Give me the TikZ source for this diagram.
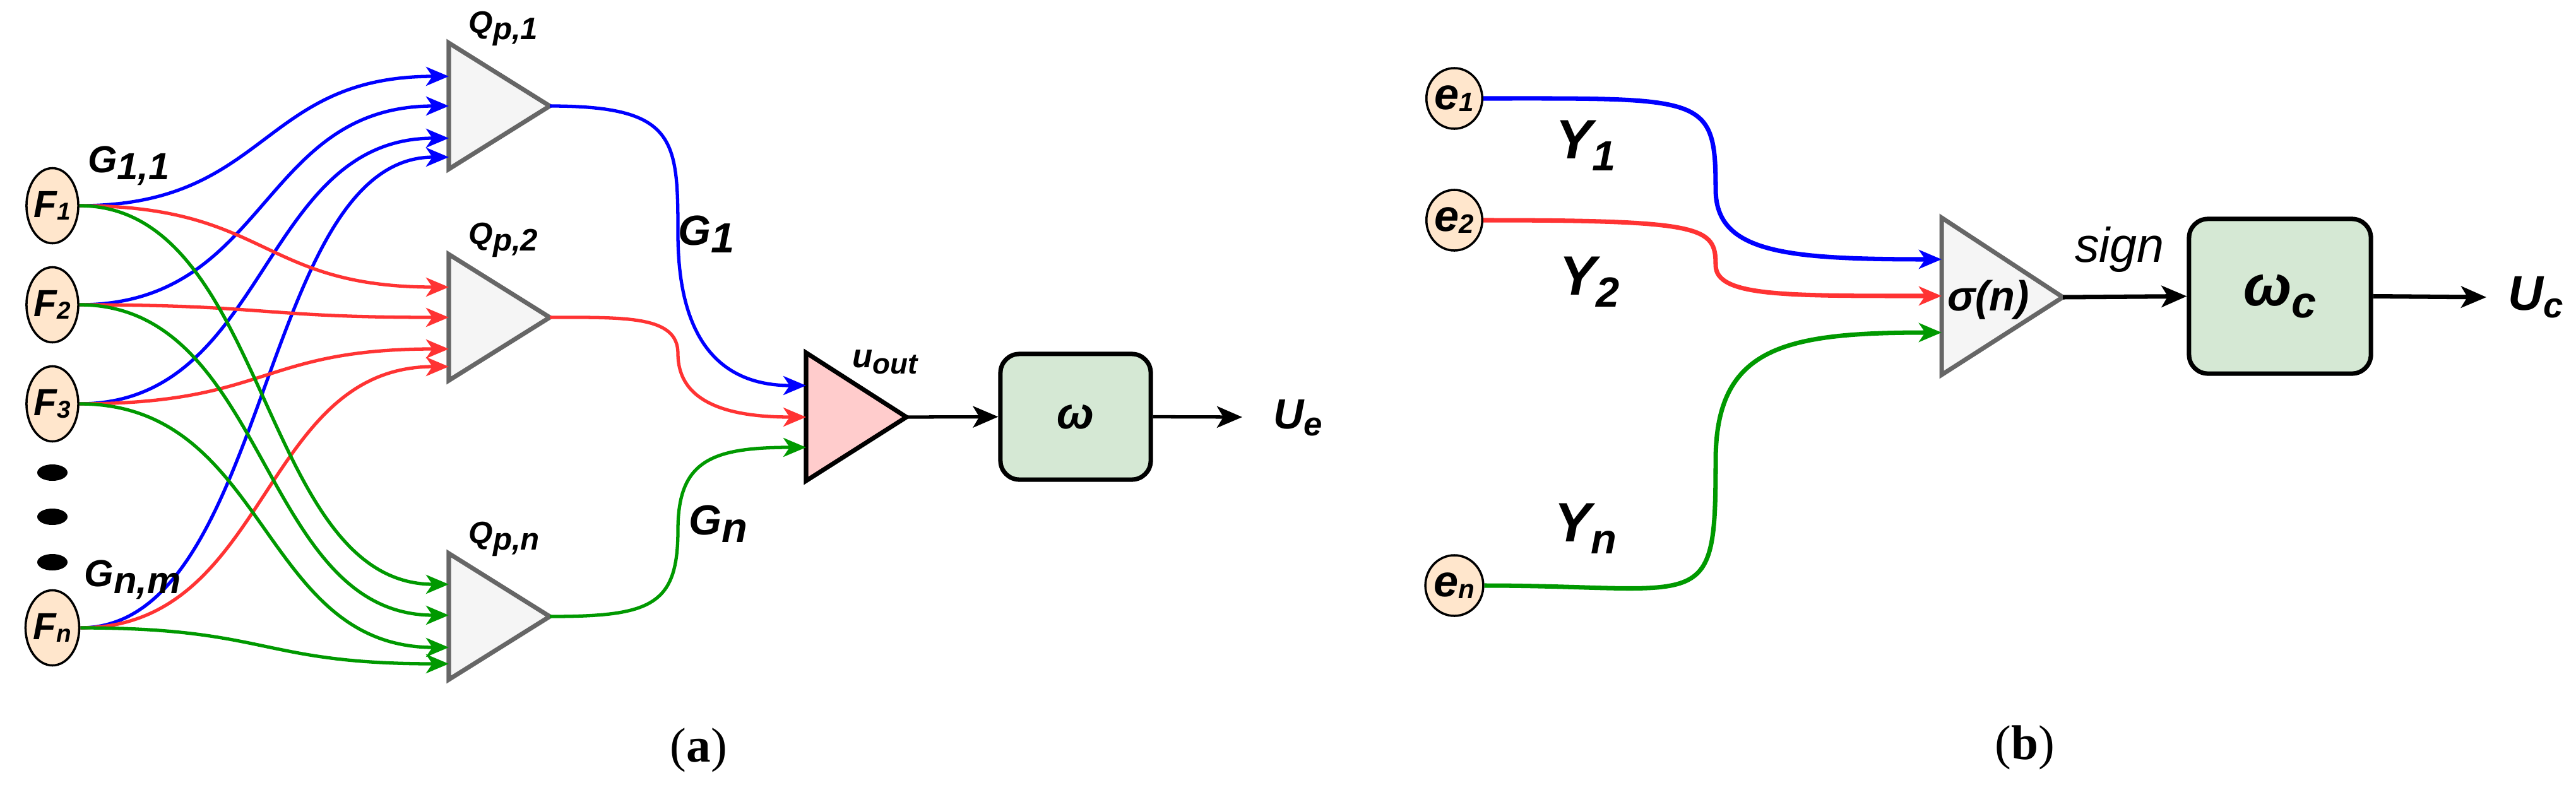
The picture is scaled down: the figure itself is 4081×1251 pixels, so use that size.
\documentclass[tikz,border=0pt]{standalone}
\usepackage{fontspec}
\setmainfont{Liberation Sans}
\newfontfamily\capfont{Liberation Serif}
\usetikzlibrary{arrows.meta,shapes.geometric}
\definecolor{cb}{HTML}{0000FF}
\definecolor{cr}{HTML}{FF3333}
\definecolor{cg}{HTML}{009900}
\definecolor{tgray}{HTML}{F5F5F5}
\definecolor{tedge}{HTML}{666666}
\definecolor{pinkf}{HTML}{FFCCCC}
\definecolor{boxg}{HTML}{D5E8D4}
\definecolor{nodef}{HTML}{FFE6CC}
\begin{document}
\begin{tikzpicture}[x=0.01cm,y=-0.01cm,
  lbl/.style={font=\fontsize{#1}{#1}\selectfont\bfseries\itshape, inner sep=0},
  src/.style={ellipse,draw=black,line width=1pt,fill=nodef,inner sep=0},
  wire/.style={line width=1.5pt,-{Stealth[length=0.36cm,width=0.3cm,inset=0.1cm]}},
  tri/.style={draw=tedge,fill=tgray,line width=2pt,line join=miter},
  blk/.style={draw=black,fill=boxg,line width=2pt,rounded corners=0.3cm},
  outarrow/.style={line width=1.5pt,-{Stealth[length=0.4cm,width=0.34cm,inset=0.1cm]}}]
\useasboundingbox (0,0) rectangle (4081,1251);
% ---------- panel (a) ----------
\foreach \n/\y/\t in {f1/326/1,f2/483/2,f3/640/3,fn/995/n}
  \node[src,minimum width=0.81cm,minimum height=1.19cm] (\n) at (83,\y) {\fontsize{17}{17}\selectfont\bfseries\itshape F\raisebox{-0.15ex}{\fontsize{11}{11}\selectfont\t}};
\foreach \y/\d in {749/a,819/b,891/c}
  \fill (83,\y) ellipse (24 and 13);
% triangles
\foreach \q/\t/\l in {q1/68/1,q2/403/2,qn/877/n}{
  \draw[tri] (711,\t) -- (871,\t+100) -- (711,\t+200) -- cycle;
  \coordinate (\q-tip) at (871,\t+100);
  \node[lbl=14,anchor=south west] at (742,\t+5) {Q\raisebox{-0.35ex}{p,\l}};
}
% input coordinates
\foreach \q/\a/\b/\c/\d in {q1/121/168/219/249,q2/455/503/553/581,qn/926/975/1026/1052}{
  \coordinate (\q-i1) at (711,\a); \coordinate (\q-i2) at (711,\b);
  \coordinate (\q-i3) at (711,\c); \coordinate (\q-i4) at (711,\d);
}
\foreach \q/\col in {q1/cb,q2/cr,qn/cg}{
  \foreach \f/\i in {f1/1,f2/2,f3/3,fn/4}
    \draw[wire,\col] (\f.east) .. controls +(300,0) and +(-300,0) .. (\q-i\i);
}
\node[lbl=17] at (204,263) {G\raisebox{-0.35ex}{1,1}};
\node[lbl=17] at (210,919) {G\raisebox{-0.35ex}{n,m}};
% sum triangle
\draw[draw=black,fill=pinkf,line width=2pt] (1277,559) -- (1436,661) -- (1277,762) -- cycle;
\coordinate (u-tip) at (1436,661);
\coordinate (u-i1) at (1277,611); \coordinate (u-i2) at (1277,661); \coordinate (u-i3) at (1277,709);
\node[lbl=15] at (1402,574) {u\raisebox{-0.35ex}{\fontsize{13}{13}\selectfont out}};
\draw[wire,cb] (q1-tip) .. controls +(200,0) and +(0,-150) .. (1074,370) .. controls +(0,150) and +(-150,0) .. (u-i1);
\draw[wire,cr] (q2-tip) .. controls +(120,0) and +(0,-60) .. (1074,560) .. controls +(0,80) and +(-120,0) .. (u-i2);
\draw[wire,cg] (qn-tip) .. controls +(160,0) and +(0,120) .. (1074,840) .. controls +(0,-110) and +(-150,0) .. (u-i3);
\node[lbl=19] at (1119,371) {G\raisebox{-0.35ex}{1}};
\node[lbl=19] at (1138,830) {G\raisebox{-0.35ex}{n}};
\node[blk,minimum width=2.38cm,minimum height=1.99cm] (w) at (1704,660.5) {\fontsize{20}{20}\selectfont\bfseries\itshape ω};
\draw[outarrow] (u-tip) -- (w.west);
\coordinate (ue) at (1968,661);
\draw[outarrow] (w.east) -- (ue);
\node[lbl=19] at (2056,662) {U\raisebox{-0.3ex}{\fontsize{15}{15}\selectfont e}};
\node[font=\capfont\fontsize{22}{22}\selectfont] at (1107,1189) {(\textbf{a})};
% ---------- panel (b) ----------
\foreach \n/\y/\t in {e1/156/1,e2/349/2,en/928/n}
  \node[src,minimum width=0.66cm,minimum height=0.96cm] (\n) at (2304,\y) {\fontsize{20}{20}\selectfont\bfseries\itshape e\raisebox{-0.1ex}{\fontsize{12}{12}\selectfont\t}};
\draw[tri] (3076,345) -- (3268,471) -- (3076,594) -- cycle;
\coordinate (s-tip) at (3268,471);
\coordinate (s-i1) at (3076,411); \coordinate (s-i2) at (3076,469); \coordinate (s-i3) at (3076,527);
\node[lbl=19] at (3150,475) {σ(n)};
\draw[wire,cb,line width=2pt] (e1.east) .. controls +(350,0) and +(0,-150) .. (2718,300) .. controls +(0,100) and +(-250,0) .. (s-i1);
\draw[wire,cr,line width=2pt] (e2.east) .. controls +(350,0) and +(0,-60) .. (2718,420) .. controls +(0,50) and +(-250,0) .. (s-i2);
\draw[wire,cg,line width=2pt] (en.east) .. controls +(350,0) and +(0,250) .. (2718,730) .. controls +(0,-180) and +(-250,0) .. (s-i3);
\node[lbl=25] at (2512,231) {Y\raisebox{-0.4ex}{\fontsize{19}{19}\selectfont 1}};
\node[lbl=25] at (2518,447) {Y\raisebox{-0.4ex}{\fontsize{19}{19}\selectfont 2}};
\node[lbl=25] at (2512,838) {Y\raisebox{-0.4ex}{\fontsize{19}{19}\selectfont n}};
\node[font=\fontsize{22}{22}\selectfont\itshape] at (3358,395) {sign};
\node[blk,minimum width=2.88cm,minimum height=2.45cm] (wc) at (3612,469.5) {\fontsize{26}{26}\selectfont\bfseries\itshape ω\raisebox{-0.4ex}{\fontsize{20}{20}\selectfont c}};
\draw[outarrow,line width=2pt] (s-tip) -- (wc.west);
\coordinate (uc) at (3939,471);
\draw[outarrow,line width=2pt] (wc.east) -- (uc);
\node[lbl=22] at (4017,471) {U\raisebox{-0.3ex}{\fontsize{16}{16}\selectfont c}};
\node[font=\capfont\fontsize{22}{22}\selectfont] at (3208,1185) {(\textbf{b})};
\end{tikzpicture}
\end{document}
